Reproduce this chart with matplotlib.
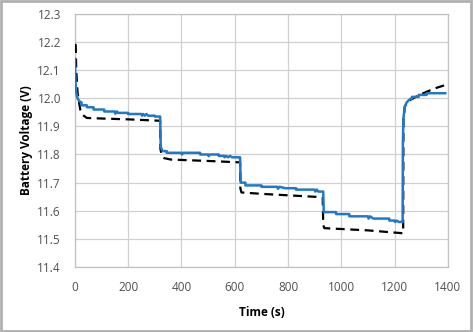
import matplotlib.pyplot as plt
from matplotlib.patches import Rectangle

# measured battery voltage (blue) and model estimate (dashed)
t_meas = [0, 2, 5, 10, 16, 25, 25, 45, 45, 70, 70, 110, 110, 150, 152, 158, 162, 200, 200, 250, 252, 256, 262, 268,
          275, 300, 300, 318,
          320, 322, 325, 330, 345, 345, 400, 402, 406, 470, 470, 500, 502, 506, 540, 540, 560, 562, 568, 575, 582,
          590, 618,
          620, 622, 640, 640, 700, 700, 760, 762, 768, 790, 830, 830, 900, 902, 908, 914, 930,
          932, 934, 980, 980, 1030, 1030, 1100, 1102, 1108, 1120, 1180, 1180, 1200, 1202, 1208, 1215, 1228,
          1230, 1231, 1233, 1238, 1245, 1255, 1265, 1265, 1290, 1290, 1320, 1320, 1390]
v_meas = [12.14, 12.06, 12.02, 12.00, 11.99, 11.985, 11.975, 11.975, 11.968, 11.968, 11.96, 11.96, 11.953, 11.953,
          11.945, 11.953, 11.948, 11.948, 11.944, 11.944, 11.938, 11.944, 11.938, 11.944, 11.938, 11.938, 11.935,
          11.935,
          11.935, 11.83, 11.82, 11.812, 11.812, 11.806, 11.806, 11.80, 11.806, 11.806, 11.80, 11.80, 11.794, 11.80,
          11.80, 11.795, 11.795, 11.79, 11.795, 11.79, 11.795, 11.79, 11.79,
          11.79, 11.70, 11.70, 11.69, 11.69, 11.685, 11.685, 11.678, 11.685, 11.68, 11.68, 11.675, 11.675, 11.668,
          11.675, 11.668, 11.668,
          11.668, 11.595, 11.595, 11.588, 11.588, 11.58, 11.58, 11.572, 11.58, 11.572, 11.572, 11.565, 11.565,
          11.56, 11.565, 11.56, 11.56,
          11.56, 11.85, 11.93, 11.97, 11.985, 11.995, 12.0, 12.005, 12.005, 12.012, 12.012, 12.018, 12.018]

t_model = [0, 3, 5, 10, 20, 30, 45, 100, 200, 320, 321, 325, 335, 360, 500, 620, 621, 625, 700, 930, 932, 936,
           1100, 1228, 1232, 1233, 1238, 1250, 1270, 1300, 1350, 1400]
v_model = [12.19, 12.19, 12.10, 12.02, 11.96, 11.94, 11.93, 11.928, 11.925, 11.92, 11.82, 11.80, 11.787, 11.782,
           11.777, 11.772, 11.68, 11.665, 11.66, 11.648, 11.55, 11.538, 11.53, 11.52, 11.52, 11.92, 11.97, 11.99,
           12.0, 12.015, 12.035, 12.05]

fig = plt.figure(figsize=(4.74, 3.32), dpi=100)
ax = fig.add_axes([0.158, 0.196, 0.787, 0.762])

ax.plot(t_model, v_model, color='black', lw=1.6, ls=(0, (4, 2.5)), zorder=3)
ax.plot(t_meas, v_meas, color='#1f78c8', lw=1.8, zorder=4)

ax.set_xlim(0, 1400)
ax.set_ylim(11.4, 12.3)
ax.set_xticks(range(0, 1401, 200))
ax.set_yticks([11.4 + 0.1 * i for i in range(10)])
ax.set_yticklabels([f'{11.4 + 0.1 * i:.1f}' for i in range(10)])
ax.grid(True, color='#d0d0d0', lw=0.9)
ax.set_axisbelow(True)
for s in ax.spines.values():
    s.set_color('#c0c0c0')
    s.set_linewidth(0.9)
ax.tick_params(length=0, pad=10, labelsize=8.5, colors='#505050')
for lab in ax.get_xticklabels() + ax.get_yticklabels():
    lab.set_family('Open Sans')

ax.set_xlabel('Time (s)', fontsize=8.5, fontweight='bold', family='Open Sans', labelpad=9)
ax.set_ylabel('Battery Voltage (V)', fontsize=8.5, fontweight='bold', family='Open Sans', labelpad=3)

# thin grey frame around the chart area
fig.patches.append(Rectangle((0.002, 0.002), 0.992, 0.994, transform=fig.transFigure, fill=False,
                             edgecolor='#b0b0b0', lw=2))

fig.savefig('out.png', dpi=100)
